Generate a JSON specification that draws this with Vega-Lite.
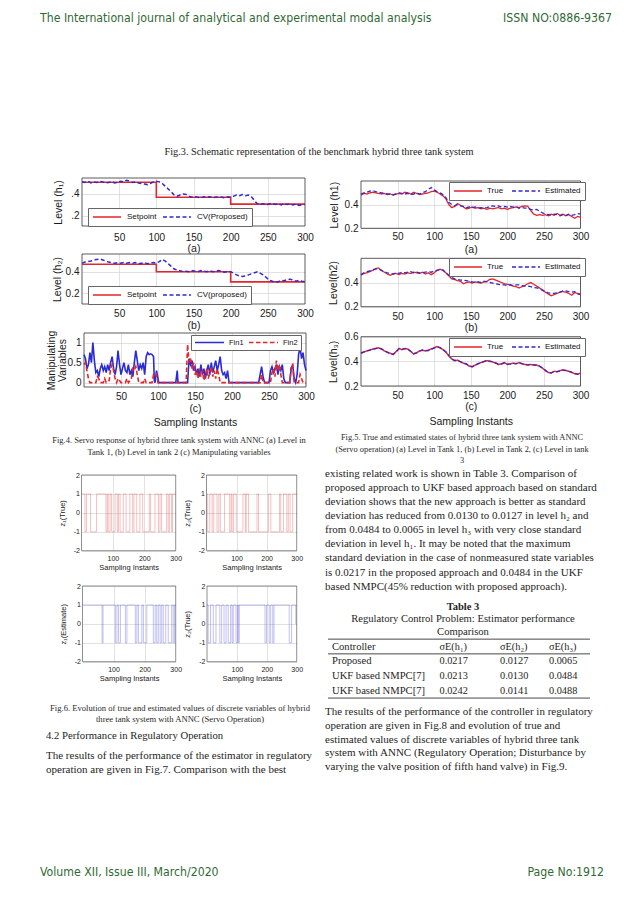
{
"$schema":"https://vega.github.io/schema/vega-lite/v6.json",
"width":638,"height":902,"autosize":{"type":"none"},"padding":0,"background":"#ffffff",
"config":{"view":{"stroke":null},
"axis":{"domain":false,"ticks":false,"grid":false,"labelFont":"Liberation Sans","titleFont":"Liberation Sans","titleFontWeight":"normal","labelColor":"#1a1a1a","titleColor":"#1a1a1a","gridColor":"#d4d4d4","gridWidth":0.7,"labelFlush":false,"labelOverlap":false,"labelFontSize":10,"titleFontSize":10.5},
"legend":{"labelFont":"Liberation Sans","labelColor":"#111111","orient":"none","direction":"horizontal","symbolType":"stroke","strokeColor":"#666666","fillColor":"#ffffff"}},
"resolve":{"scale":{"x":"independent","y":"independent","color":"independent","strokeDash":"independent"}},
"datasets":{
"f4a_sp":[{"t":0,"v":0.507},{"t":100,"v":0.37},{"t":200,"v":0.308},{"t":300,"v":0.308}],
"f4a_cv":[{"t":0,"v":0.51},{"t":4,"v":0.505},{"t":8,"v":0.515},{"t":12,"v":0.5},{"t":16,"v":0.51},{"t":20,"v":0.505},{"t":24,"v":0.515},{"t":28,"v":0.51},{"t":32,"v":0.5},{"t":36,"v":0.505},{"t":40,"v":0.51},{"t":44,"v":0.5},{"t":48,"v":0.505},{"t":52,"v":0.515},{"t":56,"v":0.51},{"t":60,"v":0.525},{"t":64,"v":0.515},{"t":68,"v":0.505},{"t":72,"v":0.51},{"t":76,"v":0.5},{"t":80,"v":0.495},{"t":84,"v":0.49},{"t":88,"v":0.485},{"t":92,"v":0.495},{"t":96,"v":0.51},{"t":100,"v":0.515},{"t":104,"v":0.51},{"t":108,"v":0.495},{"t":112,"v":0.47},{"t":116,"v":0.445},{"t":120,"v":0.42},{"t":124,"v":0.39},{"t":128,"v":0.38},{"t":132,"v":0.39},{"t":136,"v":0.4},{"t":140,"v":0.395},{"t":144,"v":0.38},{"t":148,"v":0.37},{"t":152,"v":0.375},{"t":156,"v":0.37},{"t":160,"v":0.365},{"t":164,"v":0.375},{"t":168,"v":0.37},{"t":172,"v":0.375},{"t":176,"v":0.365},{"t":180,"v":0.37},{"t":184,"v":0.375},{"t":188,"v":0.37},{"t":192,"v":0.365},{"t":196,"v":0.375},{"t":200,"v":0.37},{"t":204,"v":0.38},{"t":208,"v":0.39},{"t":212,"v":0.385},{"t":216,"v":0.395},{"t":220,"v":0.385},{"t":224,"v":0.39},{"t":228,"v":0.375},{"t":232,"v":0.34},{"t":236,"v":0.31},{"t":240,"v":0.305},{"t":244,"v":0.31},{"t":248,"v":0.3},{"t":252,"v":0.31},{"t":256,"v":0.315},{"t":260,"v":0.305},{"t":264,"v":0.31},{"t":268,"v":0.3},{"t":272,"v":0.315},{"t":276,"v":0.305},{"t":280,"v":0.31},{"t":284,"v":0.3},{"t":288,"v":0.31},{"t":292,"v":0.295},{"t":296,"v":0.3},{"t":300,"v":0.305}],
"f4b_sp":[{"t":0,"v":0.47},{"t":100,"v":0.4},{"t":200,"v":0.305},{"t":300,"v":0.305}],
"f4b_cv":[{"t":0,"v":0.48},{"t":4,"v":0.49},{"t":8,"v":0.495},{"t":12,"v":0.5},{"t":16,"v":0.51},{"t":20,"v":0.515},{"t":24,"v":0.52},{"t":28,"v":0.51},{"t":32,"v":0.5},{"t":36,"v":0.49},{"t":40,"v":0.485},{"t":44,"v":0.48},{"t":48,"v":0.485},{"t":52,"v":0.48},{"t":56,"v":0.485},{"t":60,"v":0.48},{"t":64,"v":0.485},{"t":68,"v":0.48},{"t":72,"v":0.485},{"t":76,"v":0.475},{"t":80,"v":0.48},{"t":84,"v":0.485},{"t":88,"v":0.475},{"t":92,"v":0.48},{"t":96,"v":0.485},{"t":100,"v":0.48},{"t":104,"v":0.495},{"t":108,"v":0.515},{"t":112,"v":0.5},{"t":116,"v":0.475},{"t":120,"v":0.45},{"t":124,"v":0.425},{"t":128,"v":0.415},{"t":132,"v":0.41},{"t":136,"v":0.4},{"t":140,"v":0.405},{"t":144,"v":0.4},{"t":148,"v":0.41},{"t":152,"v":0.405},{"t":156,"v":0.4},{"t":160,"v":0.41},{"t":164,"v":0.405},{"t":168,"v":0.4},{"t":172,"v":0.41},{"t":176,"v":0.4},{"t":180,"v":0.405},{"t":184,"v":0.41},{"t":188,"v":0.4},{"t":192,"v":0.395},{"t":196,"v":0.405},{"t":200,"v":0.4},{"t":204,"v":0.385},{"t":208,"v":0.37},{"t":212,"v":0.36},{"t":216,"v":0.355},{"t":220,"v":0.36},{"t":224,"v":0.37},{"t":228,"v":0.38},{"t":232,"v":0.39},{"t":236,"v":0.4},{"t":240,"v":0.385},{"t":244,"v":0.37},{"t":248,"v":0.345},{"t":252,"v":0.32},{"t":256,"v":0.31},{"t":260,"v":0.3},{"t":264,"v":0.305},{"t":268,"v":0.32},{"t":272,"v":0.315},{"t":276,"v":0.325},{"t":280,"v":0.33},{"t":284,"v":0.32},{"t":288,"v":0.31},{"t":292,"v":0.32},{"t":296,"v":0.31},{"t":300,"v":0.305}],
"f4c_1":[{"t":0,"v":0.7},{"t":2,"v":0.6},{"t":4,"v":0.35},{"t":6,"v":0.45},{"t":8,"v":0.75},{"t":10,"v":0.5},{"t":12,"v":1.0},{"t":14,"v":0.55},{"t":16,"v":0.25},{"t":18,"v":0.3},{"t":20,"v":0.15},{"t":22,"v":0.35},{"t":24,"v":0.45},{"t":26,"v":0.3},{"t":28,"v":0.4},{"t":30,"v":0.25},{"t":32,"v":0.45},{"t":34,"v":0.3},{"t":36,"v":0.5},{"t":38,"v":0.65},{"t":40,"v":0.35},{"t":42,"v":0.2},{"t":44,"v":0.4},{"t":46,"v":0.8},{"t":48,"v":0.45},{"t":50,"v":0.2},{"t":52,"v":0.35},{"t":54,"v":0.5},{"t":56,"v":0.3},{"t":58,"v":0.25},{"t":60,"v":0.45},{"t":62,"v":0.2},{"t":64,"v":0.3},{"t":66,"v":0.15},{"t":68,"v":0.5},{"t":70,"v":0.8},{"t":72,"v":0.55},{"t":74,"v":0.3},{"t":76,"v":0.45},{"t":78,"v":0.35},{"t":80,"v":0.5},{"t":82,"v":0.2},{"t":84,"v":0.65},{"t":86,"v":0.75},{"t":88,"v":0.7},{"t":90,"v":0.72},{"t":92,"v":0.7},{"t":94,"v":0.65},{"t":95,"v":0.05},{"t":96,"v":0.0},{"t":98,"v":0.3},{"t":100,"v":0.1},{"t":101,"v":0.0},{"t":124,"v":0.0},{"t":126,"v":0.3},{"t":127,"v":0.0},{"t":140,"v":0.0},{"t":142,"v":0.6},{"t":144,"v":0.45},{"t":146,"v":0.55},{"t":148,"v":0.3},{"t":150,"v":0.4},{"t":152,"v":0.2},{"t":154,"v":0.35},{"t":156,"v":0.15},{"t":158,"v":0.45},{"t":160,"v":0.2},{"t":162,"v":0.35},{"t":164,"v":0.1},{"t":166,"v":0.3},{"t":168,"v":0.45},{"t":170,"v":0.2},{"t":172,"v":0.5},{"t":174,"v":0.25},{"t":176,"v":0.4},{"t":178,"v":0.55},{"t":180,"v":0.3},{"t":182,"v":0.45},{"t":184,"v":0.65},{"t":186,"v":0.3},{"t":188,"v":0.2},{"t":190,"v":0.25},{"t":192,"v":0.1},{"t":194,"v":0.3},{"t":196,"v":0.0},{"t":236,"v":0.0},{"t":238,"v":0.2},{"t":240,"v":0.4},{"t":242,"v":0.15},{"t":244,"v":0.0},{"t":250,"v":0.0},{"t":252,"v":0.3},{"t":254,"v":0.4},{"t":256,"v":0.25},{"t":258,"v":0.35},{"t":260,"v":0.45},{"t":262,"v":0.2},{"t":264,"v":0.4},{"t":266,"v":0.3},{"t":268,"v":0.45},{"t":270,"v":0.1},{"t":272,"v":0.0},{"t":278,"v":0.0},{"t":280,"v":0.35},{"t":282,"v":0.45},{"t":284,"v":0.1},{"t":286,"v":0.0},{"t":288,"v":0.2},{"t":290,"v":0.7},{"t":292,"v":0.9},{"t":294,"v":0.6},{"t":296,"v":0.75},{"t":298,"v":0.45},{"t":300,"v":0.3}],
"f4c_2":[{"t":0,"v":0.45},{"t":2,"v":0.5},{"t":4,"v":0.3},{"t":6,"v":0.1},{"t":8,"v":0.0},{"t":16,"v":0.0},{"t":18,"v":0.15},{"t":20,"v":0.1},{"t":22,"v":0.0},{"t":26,"v":0.0},{"t":28,"v":0.1},{"t":30,"v":0.0},{"t":34,"v":0.05},{"t":36,"v":0.35},{"t":38,"v":0.45},{"t":40,"v":0.3},{"t":42,"v":0.1},{"t":44,"v":0.0},{"t":46,"v":0.1},{"t":48,"v":0.05},{"t":50,"v":0.0},{"t":56,"v":0.0},{"t":58,"v":0.1},{"t":60,"v":0.0},{"t":64,"v":0.1},{"t":66,"v":0.35},{"t":68,"v":0.3},{"t":70,"v":0.4},{"t":72,"v":0.2},{"t":74,"v":0.0},{"t":80,"v":0.0},{"t":82,"v":0.1},{"t":84,"v":0.0},{"t":92,"v":0.0},{"t":94,"v":0.2},{"t":96,"v":0.15},{"t":98,"v":0.2},{"t":100,"v":0.0},{"t":138,"v":0.0},{"t":140,"v":0.95},{"t":142,"v":0.5},{"t":144,"v":0.6},{"t":146,"v":0.35},{"t":148,"v":0.5},{"t":150,"v":0.2},{"t":152,"v":0.3},{"t":154,"v":0.1},{"t":156,"v":0.35},{"t":158,"v":0.15},{"t":160,"v":0.3},{"t":162,"v":0.05},{"t":164,"v":0.2},{"t":166,"v":0.35},{"t":168,"v":0.1},{"t":170,"v":0.25},{"t":172,"v":0.4},{"t":174,"v":0.15},{"t":176,"v":0.3},{"t":178,"v":0.1},{"t":180,"v":0.35},{"t":182,"v":0.2},{"t":184,"v":0.0},{"t":238,"v":0.0},{"t":240,"v":0.2},{"t":242,"v":0.0},{"t":252,"v":0.0},{"t":254,"v":0.25},{"t":256,"v":0.35},{"t":258,"v":0.15},{"t":260,"v":0.55},{"t":262,"v":0.3},{"t":264,"v":0.45},{"t":266,"v":0.2},{"t":268,"v":0.0},{"t":278,"v":0.0},{"t":280,"v":0.4},{"t":282,"v":0.45},{"t":284,"v":0.0},{"t":290,"v":0.0},{"t":292,"v":0.2},{"t":294,"v":0.1},{"t":296,"v":0.0},{"t":300,"v":0.0}],
"f5a_t":[{"t":0,"v":0.48},{"t":4,"v":0.495},{"t":8,"v":0.49},{"t":12,"v":0.5},{"t":16,"v":0.505},{"t":20,"v":0.5},{"t":24,"v":0.495},{"t":28,"v":0.49},{"t":32,"v":0.495},{"t":36,"v":0.485},{"t":40,"v":0.49},{"t":44,"v":0.48},{"t":48,"v":0.49},{"t":52,"v":0.495},{"t":56,"v":0.49},{"t":60,"v":0.505},{"t":64,"v":0.5},{"t":68,"v":0.49},{"t":72,"v":0.505},{"t":76,"v":0.495},{"t":80,"v":0.485},{"t":84,"v":0.49},{"t":88,"v":0.495},{"t":92,"v":0.5},{"t":96,"v":0.51},{"t":100,"v":0.515},{"t":104,"v":0.505},{"t":108,"v":0.49},{"t":112,"v":0.475},{"t":116,"v":0.45},{"t":120,"v":0.4},{"t":124,"v":0.375},{"t":128,"v":0.385},{"t":132,"v":0.41},{"t":136,"v":0.395},{"t":140,"v":0.38},{"t":144,"v":0.365},{"t":148,"v":0.37},{"t":152,"v":0.38},{"t":156,"v":0.37},{"t":160,"v":0.375},{"t":164,"v":0.365},{"t":168,"v":0.37},{"t":172,"v":0.36},{"t":176,"v":0.37},{"t":180,"v":0.365},{"t":184,"v":0.37},{"t":188,"v":0.375},{"t":192,"v":0.365},{"t":196,"v":0.37},{"t":200,"v":0.36},{"t":204,"v":0.37},{"t":208,"v":0.375},{"t":212,"v":0.38},{"t":216,"v":0.375},{"t":220,"v":0.385},{"t":224,"v":0.39},{"t":228,"v":0.385},{"t":232,"v":0.35},{"t":236,"v":0.32},{"t":240,"v":0.31},{"t":244,"v":0.315},{"t":248,"v":0.31},{"t":252,"v":0.315},{"t":256,"v":0.305},{"t":260,"v":0.32},{"t":264,"v":0.31},{"t":268,"v":0.325},{"t":272,"v":0.31},{"t":276,"v":0.32},{"t":280,"v":0.305},{"t":284,"v":0.315},{"t":288,"v":0.3},{"t":292,"v":0.285},{"t":296,"v":0.3},{"t":300,"v":0.295}],
"f5a_e":[{"t":0,"v":0.49},{"t":4,"v":0.5},{"t":8,"v":0.505},{"t":12,"v":0.515},{"t":16,"v":0.52},{"t":20,"v":0.51},{"t":24,"v":0.505},{"t":28,"v":0.5},{"t":32,"v":0.495},{"t":36,"v":0.49},{"t":40,"v":0.49},{"t":44,"v":0.485},{"t":48,"v":0.49},{"t":52,"v":0.5},{"t":56,"v":0.495},{"t":60,"v":0.49},{"t":64,"v":0.495},{"t":68,"v":0.485},{"t":72,"v":0.49},{"t":76,"v":0.5},{"t":80,"v":0.49},{"t":84,"v":0.5},{"t":88,"v":0.51},{"t":92,"v":0.53},{"t":96,"v":0.545},{"t":100,"v":0.525},{"t":104,"v":0.51},{"t":108,"v":0.5},{"t":112,"v":0.485},{"t":116,"v":0.46},{"t":120,"v":0.42},{"t":124,"v":0.4},{"t":128,"v":0.39},{"t":132,"v":0.4},{"t":136,"v":0.39},{"t":140,"v":0.385},{"t":144,"v":0.375},{"t":148,"v":0.38},{"t":152,"v":0.375},{"t":156,"v":0.38},{"t":160,"v":0.37},{"t":164,"v":0.375},{"t":168,"v":0.37},{"t":172,"v":0.375},{"t":176,"v":0.385},{"t":180,"v":0.39},{"t":184,"v":0.385},{"t":188,"v":0.39},{"t":192,"v":0.38},{"t":196,"v":0.385},{"t":200,"v":0.38},{"t":204,"v":0.385},{"t":208,"v":0.38},{"t":212,"v":0.385},{"t":216,"v":0.37},{"t":220,"v":0.375},{"t":224,"v":0.37},{"t":228,"v":0.37},{"t":232,"v":0.36},{"t":236,"v":0.355},{"t":240,"v":0.36},{"t":244,"v":0.345},{"t":248,"v":0.33},{"t":252,"v":0.32},{"t":256,"v":0.315},{"t":260,"v":0.31},{"t":264,"v":0.32},{"t":268,"v":0.315},{"t":272,"v":0.305},{"t":276,"v":0.315},{"t":280,"v":0.31},{"t":284,"v":0.32},{"t":288,"v":0.31},{"t":292,"v":0.315},{"t":296,"v":0.325},{"t":300,"v":0.32}],
"f5b_t":[{"t":0,"v":0.46},{"t":4,"v":0.475},{"t":8,"v":0.48},{"t":12,"v":0.49},{"t":16,"v":0.5},{"t":20,"v":0.515},{"t":24,"v":0.52},{"t":28,"v":0.5},{"t":32,"v":0.485},{"t":36,"v":0.47},{"t":40,"v":0.46},{"t":44,"v":0.47},{"t":48,"v":0.475},{"t":52,"v":0.465},{"t":56,"v":0.475},{"t":60,"v":0.47},{"t":64,"v":0.48},{"t":68,"v":0.475},{"t":72,"v":0.485},{"t":76,"v":0.48},{"t":80,"v":0.475},{"t":84,"v":0.485},{"t":88,"v":0.47},{"t":92,"v":0.48},{"t":96,"v":0.465},{"t":100,"v":0.48},{"t":104,"v":0.5},{"t":108,"v":0.51},{"t":112,"v":0.5},{"t":116,"v":0.48},{"t":120,"v":0.455},{"t":124,"v":0.43},{"t":128,"v":0.425},{"t":132,"v":0.415},{"t":136,"v":0.41},{"t":140,"v":0.39},{"t":144,"v":0.4},{"t":148,"v":0.405},{"t":152,"v":0.395},{"t":156,"v":0.405},{"t":160,"v":0.4},{"t":164,"v":0.395},{"t":168,"v":0.405},{"t":172,"v":0.41},{"t":176,"v":0.425},{"t":180,"v":0.43},{"t":184,"v":0.42},{"t":188,"v":0.41},{"t":192,"v":0.4},{"t":196,"v":0.39},{"t":200,"v":0.385},{"t":204,"v":0.38},{"t":208,"v":0.37},{"t":212,"v":0.365},{"t":216,"v":0.355},{"t":220,"v":0.365},{"t":224,"v":0.375},{"t":228,"v":0.39},{"t":232,"v":0.4},{"t":236,"v":0.385},{"t":240,"v":0.37},{"t":244,"v":0.355},{"t":248,"v":0.34},{"t":252,"v":0.32},{"t":256,"v":0.305},{"t":260,"v":0.29},{"t":264,"v":0.3},{"t":268,"v":0.31},{"t":272,"v":0.32},{"t":276,"v":0.325},{"t":280,"v":0.32},{"t":284,"v":0.31},{"t":288,"v":0.295},{"t":292,"v":0.315},{"t":296,"v":0.31},{"t":300,"v":0.305}],
"f5b_e":[{"t":0,"v":0.465},{"t":4,"v":0.48},{"t":8,"v":0.49},{"t":12,"v":0.495},{"t":16,"v":0.505},{"t":20,"v":0.51},{"t":24,"v":0.51},{"t":28,"v":0.5},{"t":32,"v":0.49},{"t":36,"v":0.48},{"t":40,"v":0.475},{"t":44,"v":0.47},{"t":48,"v":0.48},{"t":52,"v":0.475},{"t":56,"v":0.485},{"t":60,"v":0.48},{"t":64,"v":0.485},{"t":68,"v":0.49},{"t":72,"v":0.48},{"t":76,"v":0.485},{"t":80,"v":0.48},{"t":84,"v":0.48},{"t":88,"v":0.485},{"t":92,"v":0.49},{"t":96,"v":0.485},{"t":100,"v":0.495},{"t":104,"v":0.5},{"t":108,"v":0.505},{"t":112,"v":0.505},{"t":116,"v":0.48},{"t":120,"v":0.46},{"t":124,"v":0.44},{"t":128,"v":0.43},{"t":132,"v":0.425},{"t":136,"v":0.42},{"t":140,"v":0.42},{"t":144,"v":0.415},{"t":148,"v":0.41},{"t":152,"v":0.405},{"t":156,"v":0.4},{"t":160,"v":0.405},{"t":164,"v":0.4},{"t":168,"v":0.41},{"t":172,"v":0.405},{"t":176,"v":0.4},{"t":180,"v":0.395},{"t":184,"v":0.39},{"t":188,"v":0.385},{"t":192,"v":0.38},{"t":196,"v":0.38},{"t":200,"v":0.375},{"t":204,"v":0.38},{"t":208,"v":0.375},{"t":212,"v":0.38},{"t":216,"v":0.38},{"t":220,"v":0.375},{"t":224,"v":0.37},{"t":228,"v":0.37},{"t":232,"v":0.365},{"t":236,"v":0.36},{"t":240,"v":0.355},{"t":244,"v":0.35},{"t":248,"v":0.335},{"t":252,"v":0.325},{"t":256,"v":0.315},{"t":260,"v":0.31},{"t":264,"v":0.31},{"t":268,"v":0.315},{"t":272,"v":0.32},{"t":276,"v":0.33},{"t":280,"v":0.33},{"t":284,"v":0.325},{"t":288,"v":0.32},{"t":292,"v":0.325},{"t":296,"v":0.305},{"t":300,"v":0.3}],
"f5c_t":[{"t":0,"v":0.465},{"t":4,"v":0.475},{"t":8,"v":0.485},{"t":12,"v":0.49},{"t":16,"v":0.5},{"t":20,"v":0.505},{"t":24,"v":0.51},{"t":28,"v":0.5},{"t":32,"v":0.485},{"t":36,"v":0.475},{"t":40,"v":0.465},{"t":44,"v":0.455},{"t":48,"v":0.48},{"t":52,"v":0.505},{"t":56,"v":0.495},{"t":60,"v":0.505},{"t":64,"v":0.5},{"t":68,"v":0.48},{"t":72,"v":0.46},{"t":76,"v":0.47},{"t":80,"v":0.485},{"t":84,"v":0.49},{"t":88,"v":0.485},{"t":92,"v":0.49},{"t":96,"v":0.5},{"t":100,"v":0.51},{"t":104,"v":0.52},{"t":108,"v":0.51},{"t":112,"v":0.495},{"t":116,"v":0.475},{"t":120,"v":0.445},{"t":124,"v":0.42},{"t":128,"v":0.405},{"t":132,"v":0.41},{"t":136,"v":0.395},{"t":140,"v":0.385},{"t":144,"v":0.38},{"t":148,"v":0.36},{"t":152,"v":0.355},{"t":156,"v":0.37},{"t":160,"v":0.38},{"t":164,"v":0.39},{"t":168,"v":0.4},{"t":172,"v":0.405},{"t":176,"v":0.4},{"t":180,"v":0.395},{"t":184,"v":0.385},{"t":188,"v":0.375},{"t":192,"v":0.38},{"t":196,"v":0.39},{"t":200,"v":0.375},{"t":204,"v":0.38},{"t":208,"v":0.385},{"t":212,"v":0.38},{"t":216,"v":0.39},{"t":220,"v":0.38},{"t":224,"v":0.375},{"t":228,"v":0.37},{"t":232,"v":0.375},{"t":236,"v":0.37},{"t":240,"v":0.37},{"t":244,"v":0.36},{"t":248,"v":0.345},{"t":252,"v":0.325},{"t":256,"v":0.31},{"t":260,"v":0.305},{"t":264,"v":0.32},{"t":268,"v":0.315},{"t":272,"v":0.325},{"t":276,"v":0.33},{"t":280,"v":0.325},{"t":284,"v":0.32},{"t":288,"v":0.31},{"t":292,"v":0.3},{"t":296,"v":0.295},{"t":300,"v":0.305}],
"f5c_e":[{"t":0,"v":0.468},{"t":4,"v":0.477},{"t":8,"v":0.483},{"t":12,"v":0.492},{"t":16,"v":0.498},{"t":20,"v":0.503},{"t":24,"v":0.508},{"t":28,"v":0.502},{"t":32,"v":0.487},{"t":36,"v":0.473},{"t":40,"v":0.463},{"t":44,"v":0.457},{"t":48,"v":0.478},{"t":52,"v":0.503},{"t":56,"v":0.497},{"t":60,"v":0.503},{"t":64,"v":0.498},{"t":68,"v":0.482},{"t":72,"v":0.462},{"t":76,"v":0.468},{"t":80,"v":0.483},{"t":84,"v":0.492},{"t":88,"v":0.487},{"t":92,"v":0.488},{"t":96,"v":0.498},{"t":100,"v":0.508},{"t":104,"v":0.517},{"t":108,"v":0.512},{"t":112,"v":0.497},{"t":116,"v":0.477},{"t":120,"v":0.447},{"t":124,"v":0.422},{"t":128,"v":0.407},{"t":132,"v":0.408},{"t":136,"v":0.397},{"t":140,"v":0.387},{"t":144,"v":0.378},{"t":148,"v":0.362},{"t":152,"v":0.357},{"t":156,"v":0.368},{"t":160,"v":0.382},{"t":164,"v":0.388},{"t":168,"v":0.398},{"t":172,"v":0.403},{"t":176,"v":0.402},{"t":180,"v":0.397},{"t":184,"v":0.387},{"t":188,"v":0.377},{"t":192,"v":0.378},{"t":196,"v":0.388},{"t":200,"v":0.377},{"t":204,"v":0.378},{"t":208,"v":0.383},{"t":212,"v":0.382},{"t":216,"v":0.388},{"t":220,"v":0.382},{"t":224,"v":0.377},{"t":228,"v":0.372},{"t":232,"v":0.373},{"t":236,"v":0.372},{"t":240,"v":0.368},{"t":244,"v":0.362},{"t":248,"v":0.347},{"t":252,"v":0.327},{"t":256,"v":0.312},{"t":260,"v":0.307},{"t":264,"v":0.318},{"t":268,"v":0.317},{"t":272,"v":0.323},{"t":276,"v":0.328},{"t":280,"v":0.327},{"t":284,"v":0.318},{"t":288,"v":0.312},{"t":292,"v":0.302},{"t":296,"v":0.297},{"t":300,"v":0.303}],
"z1t":[{"t":0,"v":1},{"t":11,"v":-1},{"t":16,"v":1},{"t":29,"v":-1},{"t":48,"v":1},{"t":78,"v":-1},{"t":82,"v":1},{"t":85,"v":-1},{"t":91,"v":1},{"t":96,"v":-1},{"t":107,"v":1},{"t":114,"v":-1},{"t":118,"v":1},{"t":123,"v":-1},{"t":133,"v":1},{"t":142,"v":-1},{"t":154,"v":1},{"t":163,"v":-1},{"t":167,"v":1},{"t":176,"v":-1},{"t":186,"v":1},{"t":195,"v":-1},{"t":216,"v":1},{"t":220,"v":-1},{"t":234,"v":1},{"t":245,"v":-1},{"t":250,"v":1},{"t":255,"v":-1},{"t":271,"v":1},{"t":276,"v":-1},{"t":280,"v":1},{"t":287,"v":-1},{"t":290,"v":1},{"t":300,"v":1}],
"z2t":[{"t":0,"v":1},{"t":4,"v":-1},{"t":11,"v":1},{"t":19,"v":-1},{"t":24,"v":1},{"t":35,"v":-1},{"t":41,"v":1},{"t":46,"v":-1},{"t":60,"v":1},{"t":77,"v":-1},{"t":82,"v":1},{"t":85,"v":-1},{"t":90,"v":1},{"t":99,"v":-1},{"t":121,"v":1},{"t":129,"v":-1},{"t":132,"v":1},{"t":140,"v":-1},{"t":168,"v":1},{"t":173,"v":-1},{"t":206,"v":1},{"t":214,"v":-1},{"t":243,"v":1},{"t":247,"v":-1},{"t":256,"v":1},{"t":267,"v":-1},{"t":272,"v":1},{"t":278,"v":-1},{"t":287,"v":1},{"t":300,"v":1}],
"z1e":[{"t":0,"v":1},{"t":63,"v":-1},{"t":66,"v":1},{"t":106,"v":-1},{"t":111,"v":1},{"t":116,"v":-1},{"t":122,"v":1},{"t":138,"v":-1},{"t":143,"v":1},{"t":170,"v":-1},{"t":175,"v":1},{"t":180,"v":-1},{"t":191,"v":1},{"t":196,"v":-1},{"t":207,"v":1},{"t":228,"v":-1},{"t":234,"v":1},{"t":239,"v":-1},{"t":244,"v":1},{"t":250,"v":-1},{"t":255,"v":1},{"t":260,"v":-1},{"t":268,"v":1},{"t":276,"v":-1},{"t":287,"v":1},{"t":292,"v":-1},{"t":296,"v":1},{"t":300,"v":1}],
"z2e":[{"t":0,"v":1},{"t":4,"v":-1},{"t":12,"v":1},{"t":21,"v":-1},{"t":30,"v":1},{"t":43,"v":-1},{"t":49,"v":1},{"t":57,"v":-1},{"t":64,"v":1},{"t":71,"v":-1},{"t":79,"v":1},{"t":84,"v":-1},{"t":88,"v":1},{"t":97,"v":-1},{"t":102,"v":1},{"t":105,"v":-1},{"t":108,"v":1},{"t":194,"v":-1},{"t":199,"v":1},{"t":208,"v":-1},{"t":213,"v":1},{"t":220,"v":-1},{"t":224,"v":1},{"t":275,"v":-1},{"t":283,"v":1},{"t":297,"v":0},{"t":300,"v":0}]
},
"layer":[
{"data":{"values":[{"l":0,"text":"The International journal of analytical and experimental modal analysis"}]},"mark":{"type":"text","align":"left","baseline":"middle","font":"Liberation Sans Narrow, Arial Narrow, DejaVu Sans Condensed, Liberation Sans","fontSize":12.2,"color":"#2f6a34"},"encoding":{"x":{"datum":0,"type":"quantitative","scale":{"domain":[0,1],"range":[40,140]},"axis":null},"y":{"field":"l","type":"quantitative","scale":{"domain":[0,1],"range":[18,32]},"axis":null},"text":{"field":"text"}}},
{"data":{"values":[{"l":0,"text":"ISSN NO:0886-9367"}]},"mark":{"type":"text","align":"right","baseline":"middle","font":"Liberation Sans Narrow, Arial Narrow, DejaVu Sans Condensed, Liberation Sans","fontSize":12.2,"color":"#2f6a34"},"encoding":{"x":{"datum":0,"type":"quantitative","scale":{"domain":[0,1],"range":[612,712]},"axis":null},"y":{"field":"l","type":"quantitative","scale":{"domain":[0,1],"range":[18,32]},"axis":null},"text":{"field":"text"}}},
{"data":{"values":[{"l":0,"text":"Fig.3. Schematic representation of the benchmark hybrid three tank system"}]},"mark":{"type":"text","align":"center","baseline":"middle","font":"Liberation Serif","fontSize":10.3,"color":"#222222"},"encoding":{"x":{"datum":0,"type":"quantitative","scale":{"domain":[0,1],"range":[319,419]},"axis":null},"y":{"field":"l","type":"quantitative","scale":{"domain":[0,1],"range":[152,164]},"axis":null},"text":{"field":"text"}}},
{"data":{"values":[{"l":0,"text":"Fig.4. Servo response of hybrid three tank system with ANNC (a) Level in"},{"l":1,"text":"Tank 1, (b) Level in tank 2 (c) Manipulating variables"}]},"mark":{"type":"text","align":"center","baseline":"middle","font":"Liberation Serif","fontSize":8.5,"color":"#2a2a2a"},"encoding":{"x":{"datum":0,"type":"quantitative","scale":{"domain":[0,1],"range":[179,279]},"axis":null},"y":{"field":"l","type":"quantitative","scale":{"domain":[0,1],"range":[440,452]},"axis":null},"text":{"field":"text"}}},
{"data":{"values":[{"l":0,"text":"Fig.5. True and estimated states of hybrid three tank system with ANNC"},{"l":1,"text":"(Servo operation) (a) Level in Tank 1, (b) Level in Tank 2, (c) Level in tank"},{"l":2,"text":"3"}]},"mark":{"type":"text","align":"center","baseline":"middle","font":"Liberation Serif","fontSize":8.4,"color":"#2a2a2a"},"encoding":{"x":{"datum":0,"type":"quantitative","scale":{"domain":[0,1],"range":[462,562]},"axis":null},"y":{"field":"l","type":"quantitative","scale":{"domain":[0,1],"range":[437,448.5]},"axis":null},"text":{"field":"text"}}},
{"data":{"values":[{"l":0,"text":"Fig.6. Evolution of true and estimated values of discrete variables of hybrid"},{"l":1,"text":"three tank system with ANNC (Servo Operation)"}]},"mark":{"type":"text","align":"center","baseline":"middle","font":"Liberation Serif","fontSize":8.6,"color":"#2a2a2a"},"encoding":{"x":{"datum":0,"type":"quantitative","scale":{"domain":[0,1],"range":[180,280]},"axis":null},"y":{"field":"l","type":"quantitative","scale":{"domain":[0,1],"range":[708.3,718.8]},"axis":null},"text":{"field":"text"}}},
{"data":{"values":[{"l":0,"text":"4.2 Performance in Regulatory Operation"}]},"mark":{"type":"text","align":"left","baseline":"middle","font":"Liberation Serif","fontSize":10.7,"color":"#1e1e1e"},"encoding":{"x":{"datum":0,"type":"quantitative","scale":{"domain":[0,1],"range":[46,146]},"axis":null},"y":{"field":"l","type":"quantitative","scale":{"domain":[0,1],"range":[735.7,750]},"axis":null},"text":{"field":"text"}}},
{"data":{"values":[{"l":0,"text":"The results of the performance of the estimator in regulatory"},{"l":1,"text":"operation are given in Fig.7. Comparison with the best"}]},"mark":{"type":"text","align":"left","baseline":"middle","font":"Liberation Serif","fontSize":11,"color":"#1e1e1e"},"encoding":{"x":{"datum":0,"type":"quantitative","scale":{"domain":[0,1],"range":[46,146]},"axis":null},"y":{"field":"l","type":"quantitative","scale":{"domain":[0,1],"range":[755.7,770.2]},"axis":null},"text":{"field":"text"}}},
{"data":{"values":[{"l":0,"text":"existing related work is shown in Table 3. Comparison of"},{"l":1,"text":"proposed approach to UKF based approach based on standard"},{"l":2,"text":"deviation shows that the new approach is better as standard"},{"l":3,"text":"deviation has reduced from 0.0130 to 0.0127 in level h₂ and"},{"l":4,"text":"from 0.0484 to 0.0065 in level h₃ with very close standard"},{"l":5,"text":"deviation in level h₁. It may be noted that the maximum"},{"l":6,"text":"standard deviation in the case of nonmeasured state variables"},{"l":7,"text":"is 0.0217 in the proposed approach and 0.0484 in the UKF"},{"l":8,"text":"based NMPC(45% reduction with proposed approach)."}]},"mark":{"type":"text","align":"left","baseline":"middle","font":"Liberation Serif","fontSize":11,"color":"#1e1e1e"},"encoding":{"x":{"datum":0,"type":"quantitative","scale":{"domain":[0,1],"range":[325,425]},"axis":null},"y":{"field":"l","type":"quantitative","scale":{"domain":[0,1],"range":[474,488.08]},"axis":null},"text":{"field":"text"}}},
{"data":{"values":[{"l":0,"text":"Table 3"}]},"mark":{"type":"text","align":"center","baseline":"middle","font":"Liberation Serif","fontSize":10.5,"fontWeight":"bold","color":"#1e1e1e"},"encoding":{"x":{"datum":0,"type":"quantitative","scale":{"domain":[0,1],"range":[463,563]},"axis":null},"y":{"field":"l","type":"quantitative","scale":{"domain":[0,1],"range":[606.7,619.5]},"axis":null},"text":{"field":"text"}}},
{"data":{"values":[{"l":0,"text":"Regulatory Control Problem: Estimator performance"},{"l":1,"text":"Comparison"}]},"mark":{"type":"text","align":"center","baseline":"middle","font":"Liberation Serif","fontSize":10.6,"color":"#1e1e1e"},"encoding":{"x":{"datum":0,"type":"quantitative","scale":{"domain":[0,1],"range":[463,563]},"axis":null},"y":{"field":"l","type":"quantitative","scale":{"domain":[0,1],"range":[619.3,632.3]},"axis":null},"text":{"field":"text"}}},
{"data":{"values":[{"r":-0.5},{"r":0.5},{"r":3.5}]},"mark":{"type":"rule","color":"#333333","strokeWidth":0.9},"encoding":{"x":{"datum":0,"type":"quantitative","scale":{"domain":[0,1],"range":[328,590]},"axis":null},"x2":{"datum":1},"y":{"field":"r","type":"quantitative","scale":{"domain":[0,3],"range":[646.5,690.7]},"axis":null}}},
{"data":{"values":[{"r":0,"text":"Controller"},{"r":1,"text":"Proposed"},{"r":2,"text":"UKF based NMPC[7]"},{"r":3,"text":"UKF based NMPC[7]"}]},"mark":{"type":"text","align":"left","baseline":"middle","font":"Liberation Serif","fontSize":10.6,"color":"#1e1e1e"},"encoding":{"x":{"datum":0,"type":"quantitative","scale":{"domain":[0,1],"range":[332,432]},"axis":null},"y":{"field":"r","type":"quantitative","scale":{"domain":[0,3],"range":[646.5,690.7]},"axis":null},"text":{"field":"text"}}},
{"data":{"values":[{"r":0,"text":"σE(h₁)"},{"r":1,"text":"0.0217"},{"r":2,"text":"0.0213"},{"r":3,"text":"0.0242"}]},"mark":{"type":"text","align":"left","baseline":"middle","font":"Liberation Serif","fontSize":10.3,"color":"#1e1e1e"},"encoding":{"x":{"datum":0,"type":"quantitative","scale":{"domain":[0,1],"range":[439.5,539.5]},"axis":null},"y":{"field":"r","type":"quantitative","scale":{"domain":[0,3],"range":[646.5,690.7]},"axis":null},"text":{"field":"text"}}},
{"data":{"values":[{"r":0,"text":"σE(h₂)"},{"r":1,"text":"0.0127"},{"r":2,"text":"0.0130"},{"r":3,"text":"0.0141"}]},"mark":{"type":"text","align":"left","baseline":"middle","font":"Liberation Serif","fontSize":10.3,"color":"#1e1e1e"},"encoding":{"x":{"datum":0,"type":"quantitative","scale":{"domain":[0,1],"range":[500,600]},"axis":null},"y":{"field":"r","type":"quantitative","scale":{"domain":[0,3],"range":[646.5,690.7]},"axis":null},"text":{"field":"text"}}},
{"data":{"values":[{"r":0,"text":"σE(h₃)"},{"r":1,"text":"0.0065"},{"r":2,"text":"0.0484"},{"r":3,"text":"0.0488"}]},"mark":{"type":"text","align":"left","baseline":"middle","font":"Liberation Serif","fontSize":10.3,"color":"#1e1e1e"},"encoding":{"x":{"datum":0,"type":"quantitative","scale":{"domain":[0,1],"range":[549,649]},"axis":null},"y":{"field":"r","type":"quantitative","scale":{"domain":[0,3],"range":[646.5,690.7]},"axis":null},"text":{"field":"text"}}},
{"data":{"values":[{"l":0,"text":"The results of the performance of the controller in regulatory"},{"l":1,"text":"operation are given in Fig.8 and evolution of true and"},{"l":2,"text":"estimated values of discrete variables of hybrid three tank"},{"l":3,"text":"system with ANNC (Regulatory Operation; Disturbance by"},{"l":4,"text":"varying the valve position of fifth hand valve) in Fig.9."}]},"mark":{"type":"text","align":"left","baseline":"middle","font":"Liberation Serif","fontSize":11,"color":"#1e1e1e"},"encoding":{"x":{"datum":0,"type":"quantitative","scale":{"domain":[0,1],"range":[325,425]},"axis":null},"y":{"field":"l","type":"quantitative","scale":{"domain":[0,1],"range":[711.7,725.6]},"axis":null},"text":{"field":"text"}}},
{"data":{"values":[{"l":0,"text":"Volume XII, Issue III, March/2020"}]},"mark":{"type":"text","align":"left","baseline":"middle","font":"Liberation Sans Narrow, Arial Narrow, DejaVu Sans Condensed, Liberation Sans","fontSize":12.2,"color":"#2f6a34"},"encoding":{"x":{"datum":0,"type":"quantitative","scale":{"domain":[0,1],"range":[40,140]},"axis":null},"y":{"field":"l","type":"quantitative","scale":{"domain":[0,1],"range":[872,886]},"axis":null},"text":{"field":"text"}}},
{"data":{"values":[{"l":0,"text":"Page No:1912"}]},"mark":{"type":"text","align":"right","baseline":"middle","font":"Liberation Sans Narrow, Arial Narrow, DejaVu Sans Condensed, Liberation Sans","fontSize":12.2,"color":"#2f6a34"},"encoding":{"x":{"datum":0,"type":"quantitative","scale":{"domain":[0,1],"range":[604,704]},"axis":null},"y":{"field":"l","type":"quantitative","scale":{"domain":[0,1],"range":[872,886]},"axis":null},"text":{"field":"text"}}},

{"resolve":{"axis":{"x":"independent"}},"layer":[
{"data":{"values":[{}]},"mark":{"type":"rect","fillOpacity":0,"stroke":"#333333","strokeWidth":0.8},"encoding":{"x":{"datum":0,"type":"quantitative","scale":{"domain":[0,300],"range":[82,305],"nice":false,"zero":false},"axis":{"orient":"top","offset":-178,"grid":true,"labels":false,"title":null,"values":[50,100,150,200,250]}},"x2":{"datum":300},"y":{"datum":0.109,"type":"quantitative","scale":{"domain":[0.109,0.545],"range":[226,178],"nice":false,"zero":false},"axis":{"orient":"left","offset":-82,"values":[0.2,0.4],"grid":true,"labelExpr":"replace(format(datum.value,'.1f'),'0.','.')","title":"Level (h₁)","labelPadding":3,"titlePadding":7}},"y2":{"datum":0.545}}},
{"data":{"name":"f4a_sp"},"mark":{"type":"line","interpolate":"step-after","strokeWidth":1.6},"encoding":{"x":{"field":"t","type":"quantitative","scale":{"domain":[0,300],"range":[82,305],"nice":false,"zero":false},"axis":null},"y":{"field":"v","type":"quantitative","scale":{"domain":[0.109,0.545],"range":[226,178],"nice":false,"zero":false}},
"color":{"datum":"Setpoint","scale":{"domain":["Setpoint","CV(Proposed)"],"range":["#e3262b","#2b2bd4"]},"legend":{"legendX":88,"legendY":208,"title":null,"symbolSize":784,"symbolStrokeWidth":1.6,"labelFontSize":8,"labelOffset":5,"columnPadding":5,"padding":4,"clipHeight":10}},
"strokeDash":{"datum":"Setpoint","scale":{"domain":["Setpoint","CV(Proposed)"],"range":[[1,0],[4,2.5]]},"legend":{"legendX":88,"legendY":208,"title":null,"symbolSize":784,"symbolStrokeWidth":1.6,"labelFontSize":8,"labelOffset":5,"columnPadding":5,"padding":4,"clipHeight":10}}}},
{"data":{"name":"f4a_cv"},"mark":{"type":"line","strokeWidth":1.5},"encoding":{"x":{"field":"t","type":"quantitative","scale":{"domain":[0,300],"range":[82,305],"nice":false,"zero":false},"axis":{"orient":"bottom","offset":-676,"values":[50,100,150,200,250,300],"title":"(a)","labelPadding":6,"titlePadding":1.5}},"y":{"field":"v","type":"quantitative","scale":{"domain":[0.109,0.545],"range":[226,178],"nice":false,"zero":false}},
"color":{"datum":"CV(Proposed)","scale":{"domain":["Setpoint","CV(Proposed)"],"range":["#e3262b","#2b2bd4"]},"legend":{"legendX":88,"legendY":208,"title":null,"symbolSize":784,"symbolStrokeWidth":1.6,"labelFontSize":8,"labelOffset":5,"columnPadding":5,"padding":4,"clipHeight":10}},
"strokeDash":{"datum":"CV(Proposed)","scale":{"domain":["Setpoint","CV(Proposed)"],"range":[[1,0],[4,2.5]]},"legend":{"legendX":88,"legendY":208,"title":null,"symbolSize":784,"symbolStrokeWidth":1.6,"labelFontSize":8,"labelOffset":5,"columnPadding":5,"padding":4,"clipHeight":10}}}}
]},

{"resolve":{"axis":{"x":"independent"}},"layer":[
{"data":{"values":[{}]},"mark":{"type":"rect","fillOpacity":0,"stroke":"#333333","strokeWidth":0.8},"encoding":{"x":{"datum":0,"type":"quantitative","scale":{"domain":[0,300],"range":[82,305],"nice":false,"zero":false},"axis":{"orient":"top","offset":-254,"grid":true,"labels":false,"title":null,"values":[50,100,150,200,250]}},"x2":{"datum":300},"y":{"datum":0.097,"type":"quantitative","scale":{"domain":[0.097,0.566],"range":[304,254],"nice":false,"zero":false},"axis":{"orient":"left","offset":-82,"values":[0.2,0.4],"grid":true,"format":"~g","title":"Level (h₂)","labelPadding":3,"titlePadding":3}},"y2":{"datum":0.566}}},
{"data":{"name":"f4b_sp"},"mark":{"type":"line","interpolate":"step-after","strokeWidth":1.6},"encoding":{"x":{"field":"t","type":"quantitative","scale":{"domain":[0,300],"range":[82,305],"nice":false,"zero":false},"axis":null},"y":{"field":"v","type":"quantitative","scale":{"domain":[0.097,0.566],"range":[304,254],"nice":false,"zero":false}},
"color":{"datum":"Setpoint","scale":{"domain":["Setpoint","CV(proposed)"],"range":["#e3262b","#2b2bd4"]},"legend":{"legendX":88,"legendY":286,"title":null,"symbolSize":784,"symbolStrokeWidth":1.6,"labelFontSize":8,"labelOffset":5,"columnPadding":5,"padding":4,"clipHeight":10}},
"strokeDash":{"datum":"Setpoint","scale":{"domain":["Setpoint","CV(proposed)"],"range":[[1,0],[4,2.5]]},"legend":{"legendX":88,"legendY":286,"title":null,"symbolSize":784,"symbolStrokeWidth":1.6,"labelFontSize":8,"labelOffset":5,"columnPadding":5,"padding":4,"clipHeight":10}}}},
{"data":{"name":"f4b_cv"},"mark":{"type":"line","strokeWidth":1.5},"encoding":{"x":{"field":"t","type":"quantitative","scale":{"domain":[0,300],"range":[82,305],"nice":false,"zero":false},"axis":{"orient":"bottom","offset":-598,"values":[50,100,150,200,250,300],"title":"(b)","labelPadding":4,"titlePadding":2}},"y":{"field":"v","type":"quantitative","scale":{"domain":[0.097,0.566],"range":[304,254],"nice":false,"zero":false}},
"color":{"datum":"CV(proposed)","scale":{"domain":["Setpoint","CV(proposed)"],"range":["#e3262b","#2b2bd4"]},"legend":{"legendX":88,"legendY":286,"title":null,"symbolSize":784,"symbolStrokeWidth":1.6,"labelFontSize":8,"labelOffset":5,"columnPadding":5,"padding":4,"clipHeight":10}},
"strokeDash":{"datum":"CV(proposed)","scale":{"domain":["Setpoint","CV(proposed)"],"range":[[1,0],[4,2.5]]},"legend":{"legendX":88,"legendY":286,"title":null,"symbolSize":784,"symbolStrokeWidth":1.6,"labelFontSize":8,"labelOffset":5,"columnPadding":5,"padding":4,"clipHeight":10}}}}
]},

{"resolve":{"axis":{"x":"independent"}},"layer":[
{"data":{"values":[{}]},"mark":{"type":"rect","fillOpacity":0,"stroke":"#333333","strokeWidth":0.8},"encoding":{"x":{"datum":0,"type":"quantitative","scale":{"domain":[0,300],"range":[84,306],"nice":false,"zero":false},"axis":{"orient":"top","offset":-333,"grid":true,"labels":false,"title":null,"values":[50,100,150,200,250]}},"x2":{"datum":300},"y":{"datum":-0.11,"type":"quantitative","scale":{"domain":[-0.11,1.24],"range":[387,333],"nice":false,"zero":false},"axis":{"orient":"left","offset":-84,"values":[0,0.5,1],"grid":true,"format":"~g","title":["Manipulating","Variables"],"titleLineHeight":11,"labelPadding":3,"titlePadding":0}},"y2":{"datum":1.24}}},
{"data":{"name":"f4c_1"},"mark":{"type":"line","strokeWidth":1.6},"encoding":{"x":{"field":"t","type":"quantitative","scale":{"domain":[0,300],"range":[84,306],"nice":false,"zero":false},"axis":{"orient":"bottom","offset":-515,"values":[50,100,150,200,250,300],"title":["(c)","Sampling Instants"],"titleLineHeight":14,"labelPadding":4,"titlePadding":2}},"y":{"field":"v","type":"quantitative","scale":{"domain":[-0.11,1.24],"range":[387,333],"nice":false,"zero":false}},
"color":{"datum":"Fin1","scale":{"domain":["Fin1","Fin2"],"range":["#2b2bd4","#e3262b"]},"legend":{"legendX":191,"legendY":335,"title":null,"symbolSize":841,"symbolStrokeWidth":1.6,"labelFontSize":7.5,"labelOffset":4,"columnPadding":4,"padding":3,"clipHeight":8.5}},
"strokeDash":{"datum":"Fin1","scale":{"domain":["Fin1","Fin2"],"range":[[1,0],[4.5,2.5]]},"legend":{"legendX":191,"legendY":335,"title":null,"symbolSize":841,"symbolStrokeWidth":1.6,"labelFontSize":7.5,"labelOffset":4,"columnPadding":4,"padding":3,"clipHeight":8.5}}}},
{"data":{"name":"f4c_2"},"mark":{"type":"line","strokeWidth":1.6},"encoding":{"x":{"field":"t","type":"quantitative","scale":{"domain":[0,300],"range":[84,306],"nice":false,"zero":false},"axis":null},"y":{"field":"v","type":"quantitative","scale":{"domain":[-0.11,1.24],"range":[387,333],"nice":false,"zero":false}},
"color":{"datum":"Fin2","scale":{"domain":["Fin1","Fin2"],"range":["#2b2bd4","#e3262b"]},"legend":{"legendX":191,"legendY":335,"title":null,"symbolSize":841,"symbolStrokeWidth":1.6,"labelFontSize":7.5,"labelOffset":4,"columnPadding":4,"padding":3,"clipHeight":8.5}},
"strokeDash":{"datum":"Fin2","scale":{"domain":["Fin1","Fin2"],"range":[[1,0],[4.5,2.5]]},"legend":{"legendX":191,"legendY":335,"title":null,"symbolSize":841,"symbolStrokeWidth":1.6,"labelFontSize":7.5,"labelOffset":4,"columnPadding":4,"padding":3,"clipHeight":8.5}}}}
]},

{"resolve":{"axis":{"x":"independent"}},"layer":[
{"data":{"values":[{}]},"mark":{"type":"rect","fillOpacity":0,"stroke":"#333333","strokeWidth":0.8},"encoding":{"x":{"datum":0,"type":"quantitative","scale":{"domain":[0,300],"range":[361,580.5],"nice":false,"zero":false},"axis":{"orient":"top","offset":-181,"grid":true,"labels":false,"title":null,"values":[50,100,150,200,250]}},"x2":{"datum":300},"y":{"datum":0.2,"type":"quantitative","scale":{"domain":[0.2,0.6],"range":[228.3,181],"nice":false,"zero":false},"axis":{"orient":"left","offset":-361,"values":[0.2,0.4],"grid":true,"format":"~g","title":"Level (h1)","labelPadding":3,"titlePadding":5}},"y2":{"datum":0.6}}},
{"data":{"name":"f5a_t"},"mark":{"type":"line","strokeWidth":1.3},"encoding":{"x":{"field":"t","type":"quantitative","scale":{"domain":[0,300],"range":[361,580.5],"nice":false,"zero":false},"axis":{"orient":"bottom","offset":-673.7,"values":[50,100,150,200,250,300],"title":"(a)","labelPadding":3.5,"titlePadding":2.5}},"y":{"field":"v","type":"quantitative","scale":{"domain":[0.2,0.6],"range":[228.3,181],"nice":false,"zero":false}},
"color":{"datum":"True","scale":{"domain":["True","Estimated"],"range":["#e3262b","#2b2bd4"]},"legend":{"legendX":449,"legendY":182,"title":null,"symbolSize":784,"symbolStrokeWidth":1.5,"labelFontSize":8,"labelOffset":4,"columnPadding":7,"padding":4,"clipHeight":10}},
"strokeDash":{"datum":"True","scale":{"domain":["True","Estimated"],"range":[[1,0],[4,2.5]]},"legend":{"legendX":449,"legendY":182,"title":null,"symbolSize":784,"symbolStrokeWidth":1.5,"labelFontSize":8,"labelOffset":4,"columnPadding":7,"padding":4,"clipHeight":10}}}},
{"data":{"name":"f5a_e"},"mark":{"type":"line","strokeWidth":1.3},"encoding":{"x":{"field":"t","type":"quantitative","scale":{"domain":[0,300],"range":[361,580.5],"nice":false,"zero":false},"axis":null},"y":{"field":"v","type":"quantitative","scale":{"domain":[0.2,0.6],"range":[228.3,181],"nice":false,"zero":false}},
"color":{"datum":"Estimated","scale":{"domain":["True","Estimated"],"range":["#e3262b","#2b2bd4"]},"legend":{"legendX":449,"legendY":182,"title":null,"symbolSize":784,"symbolStrokeWidth":1.5,"labelFontSize":8,"labelOffset":4,"columnPadding":7,"padding":4,"clipHeight":10}},
"strokeDash":{"datum":"Estimated","scale":{"domain":["True","Estimated"],"range":[[1,0],[4,2.5]]},"legend":{"legendX":449,"legendY":182,"title":null,"symbolSize":784,"symbolStrokeWidth":1.5,"labelFontSize":8,"labelOffset":4,"columnPadding":7,"padding":4,"clipHeight":10}}}}
]},

{"resolve":{"axis":{"x":"independent"}},"layer":[
{"data":{"values":[{}]},"mark":{"type":"rect","fillOpacity":0,"stroke":"#333333","strokeWidth":0.8},"encoding":{"x":{"datum":0,"type":"quantitative","scale":{"domain":[0,300],"range":[361,580.5],"nice":false,"zero":false},"axis":{"orient":"top","offset":-258.3,"grid":true,"labels":false,"title":null,"values":[50,100,150,200,250]}},"x2":{"datum":300},"y":{"datum":0.2,"type":"quantitative","scale":{"domain":[0.2,0.6],"range":[306.7,258.3],"nice":false,"zero":false},"axis":{"orient":"left","offset":-361,"values":[0.2,0.4],"grid":true,"format":"~g","title":"Level(h2)","labelPadding":3,"titlePadding":6}},"y2":{"datum":0.6}}},
{"data":{"name":"f5b_t"},"mark":{"type":"line","strokeWidth":1.3},"encoding":{"x":{"field":"t","type":"quantitative","scale":{"domain":[0,300],"range":[361,580.5],"nice":false,"zero":false},"axis":{"orient":"bottom","offset":-595.3,"values":[50,100,150,200,250,300],"title":"(b)","labelPadding":4.5,"titlePadding":1.5}},"y":{"field":"v","type":"quantitative","scale":{"domain":[0.2,0.6],"range":[306.7,258.3],"nice":false,"zero":false}},
"color":{"datum":"True","scale":{"domain":["True","Estimated"],"range":["#e3262b","#2b2bd4"]},"legend":{"legendX":449,"legendY":258,"title":null,"symbolSize":784,"symbolStrokeWidth":1.5,"labelFontSize":8,"labelOffset":4,"columnPadding":7,"padding":4,"clipHeight":10}},
"strokeDash":{"datum":"True","scale":{"domain":["True","Estimated"],"range":[[1,0],[4,2.5]]},"legend":{"legendX":449,"legendY":258,"title":null,"symbolSize":784,"symbolStrokeWidth":1.5,"labelFontSize":8,"labelOffset":4,"columnPadding":7,"padding":4,"clipHeight":10}}}},
{"data":{"name":"f5b_e"},"mark":{"type":"line","strokeWidth":1.3},"encoding":{"x":{"field":"t","type":"quantitative","scale":{"domain":[0,300],"range":[361,580.5],"nice":false,"zero":false},"axis":null},"y":{"field":"v","type":"quantitative","scale":{"domain":[0.2,0.6],"range":[306.7,258.3],"nice":false,"zero":false}},
"color":{"datum":"Estimated","scale":{"domain":["True","Estimated"],"range":["#e3262b","#2b2bd4"]},"legend":{"legendX":449,"legendY":258,"title":null,"symbolSize":784,"symbolStrokeWidth":1.5,"labelFontSize":8,"labelOffset":4,"columnPadding":7,"padding":4,"clipHeight":10}},
"strokeDash":{"datum":"Estimated","scale":{"domain":["True","Estimated"],"range":[[1,0],[4,2.5]]},"legend":{"legendX":449,"legendY":258,"title":null,"symbolSize":784,"symbolStrokeWidth":1.5,"labelFontSize":8,"labelOffset":4,"columnPadding":7,"padding":4,"clipHeight":10}}}}
]},

{"resolve":{"axis":{"x":"independent"}},"layer":[
{"data":{"values":[{}]},"mark":{"type":"rect","fillOpacity":0,"stroke":"#333333","strokeWidth":0.8},"encoding":{"x":{"datum":0,"type":"quantitative","scale":{"domain":[0,300],"range":[361,580.5],"nice":false,"zero":false},"axis":{"orient":"top","offset":-336.7,"grid":true,"labels":false,"title":null,"values":[50,100,150,200,250]}},"x2":{"datum":300},"y":{"datum":0.2,"type":"quantitative","scale":{"domain":[0.2,0.6],"range":[386,336.7],"nice":false,"zero":false},"axis":{"orient":"left","offset":-361,"values":[0.2,0.4,0.6],"grid":true,"format":"~g","title":"Level(h₃)","labelPadding":3,"titlePadding":6}},"y2":{"datum":0.6}}},
{"data":{"name":"f5c_t"},"mark":{"type":"line","strokeWidth":1.5},"encoding":{"x":{"field":"t","type":"quantitative","scale":{"domain":[0,300],"range":[361,580.5],"nice":false,"zero":false},"axis":{"orient":"bottom","offset":-516,"values":[50,100,150,200,250,300],"title":["(c)","Sampling Instants"],"titleLineHeight":14.5,"labelPadding":4,"titlePadding":1.5}},"y":{"field":"v","type":"quantitative","scale":{"domain":[0.2,0.6],"range":[386,336.7],"nice":false,"zero":false}},
"color":{"datum":"True","scale":{"domain":["True","Estimated"],"range":["#e3262b","#2b2bd4"]},"legend":{"legendX":449,"legendY":338,"title":null,"symbolSize":784,"symbolStrokeWidth":1.5,"labelFontSize":8,"labelOffset":4,"columnPadding":7,"padding":4,"clipHeight":10}},
"strokeDash":{"datum":"True","scale":{"domain":["True","Estimated"],"range":[[1,0],[4,2.5]]},"legend":{"legendX":449,"legendY":338,"title":null,"symbolSize":784,"symbolStrokeWidth":1.5,"labelFontSize":8,"labelOffset":4,"columnPadding":7,"padding":4,"clipHeight":10}}}},
{"data":{"name":"f5c_e"},"mark":{"type":"line","strokeWidth":1.3},"encoding":{"x":{"field":"t","type":"quantitative","scale":{"domain":[0,300],"range":[361,580.5],"nice":false,"zero":false},"axis":null},"y":{"field":"v","type":"quantitative","scale":{"domain":[0.2,0.6],"range":[386,336.7],"nice":false,"zero":false}},
"color":{"datum":"Estimated","scale":{"domain":["True","Estimated"],"range":["#e3262b","#2b2bd4"]},"legend":{"legendX":449,"legendY":338,"title":null,"symbolSize":784,"symbolStrokeWidth":1.5,"labelFontSize":8,"labelOffset":4,"columnPadding":7,"padding":4,"clipHeight":10}},
"strokeDash":{"datum":"Estimated","scale":{"domain":["True","Estimated"],"range":[[1,0],[4,2.5]]},"legend":{"legendX":449,"legendY":338,"title":null,"symbolSize":784,"symbolStrokeWidth":1.5,"labelFontSize":8,"labelOffset":4,"columnPadding":7,"padding":4,"clipHeight":10}}}}
]},

{"resolve":{"axis":{"x":"independent"}},"layer":[
{"data":{"values":[{}]},"mark":{"type":"rect","fillOpacity":0,"stroke":"#444444","strokeWidth":0.6},"encoding":{"x":{"datum":0,"type":"quantitative","scale":{"domain":[0,300],"range":[81.5,175.7],"nice":false,"zero":false},"axis":{"orient":"top","offset":-475,"grid":true,"labels":false,"title":null,"values":[100,200]}},"x2":{"datum":300},"y":{"datum":-2,"type":"quantitative","scale":{"domain":[-2,2],"range":[550.7,475],"nice":false,"zero":false},"axis":{"orient":"left","offset":-81.5,"values":[-2,-1,0,1,2],"grid":true,"labelExpr":"(datum.value < 0 ? '-' : '') + format(abs(datum.value), 'd')","title":"z₁(True)","labelFontSize":7,"titleFontSize":7.5,"labelPadding":2,"titlePadding":7}},"y2":{"datum":2}}},
{"data":{"name":"z1t"},"mark":{"type":"line","interpolate":"step-after","color":"#e05050","strokeWidth":0.6,"opacity":0.6},"encoding":{"x":{"field":"t","type":"quantitative","scale":{"domain":[0,300],"range":[81.5,175.7],"nice":false,"zero":false},"axis":{"orient":"bottom","offset":-351.3,"values":[100,200,300],"title":"Sampling Instants","labelFontSize":7,"titleFontSize":7.5,"labelPadding":4,"titlePadding":1.5}},"y":{"field":"v","type":"quantitative","scale":{"domain":[-2,2],"range":[550.7,475],"nice":false,"zero":false}}}}
]},

{"resolve":{"axis":{"x":"independent"}},"layer":[
{"data":{"values":[{}]},"mark":{"type":"rect","fillOpacity":0,"stroke":"#444444","strokeWidth":0.6},"encoding":{"x":{"datum":0,"type":"quantitative","scale":{"domain":[0,300],"range":[206.5,296.7],"nice":false,"zero":false},"axis":{"orient":"top","offset":-475,"grid":true,"labels":false,"title":null,"values":[100,200]}},"x2":{"datum":300},"y":{"datum":-2,"type":"quantitative","scale":{"domain":[-2,2],"range":[550.7,475],"nice":false,"zero":false},"axis":{"orient":"left","offset":-206.5,"values":[-2,-1,0,1,2],"grid":true,"labelExpr":"(datum.value < 0 ? '-' : '') + format(abs(datum.value), 'd')","title":"z₂(True)","labelFontSize":7,"titleFontSize":7.5,"labelPadding":2,"titlePadding":7}},"y2":{"datum":2}}},
{"data":{"name":"z2t"},"mark":{"type":"line","interpolate":"step-after","color":"#e05050","strokeWidth":0.6,"opacity":0.6},"encoding":{"x":{"field":"t","type":"quantitative","scale":{"domain":[0,300],"range":[206.5,296.7],"nice":false,"zero":false},"axis":{"orient":"bottom","offset":-351.3,"values":[100,200,300],"title":"Sampling Instants","labelFontSize":7,"titleFontSize":7.5,"labelPadding":4,"titlePadding":1.5}},"y":{"field":"v","type":"quantitative","scale":{"domain":[-2,2],"range":[550.7,475],"nice":false,"zero":false}}}}
]},

{"resolve":{"axis":{"x":"independent"}},"layer":[
{"data":{"values":[{}]},"mark":{"type":"rect","fillOpacity":0,"stroke":"#444444","strokeWidth":0.6},"encoding":{"x":{"datum":0,"type":"quantitative","scale":{"domain":[0,300],"range":[82.5,175.7],"nice":false,"zero":false},"axis":{"orient":"top","offset":-586,"grid":true,"labels":false,"title":null,"values":[100,200]}},"x2":{"datum":300},"y":{"datum":-2,"type":"quantitative","scale":{"domain":[-2,2],"range":[661.7,586],"nice":false,"zero":false},"axis":{"orient":"left","offset":-82.5,"values":[-2,-1,0,1,2],"grid":true,"labelExpr":"(datum.value < 0 ? '-' : '') + format(abs(datum.value), 'd')","title":"z₁(Estimate)","labelFontSize":7,"titleFontSize":7.5,"labelPadding":2,"titlePadding":7}},"y2":{"datum":2}}},
{"data":{"name":"z1e"},"mark":{"type":"line","interpolate":"step-after","color":"#5050e0","strokeWidth":0.6,"opacity":0.6},"encoding":{"x":{"field":"t","type":"quantitative","scale":{"domain":[0,300],"range":[82.5,175.7],"nice":false,"zero":false},"axis":{"orient":"bottom","offset":-240.3,"values":[100,200,300],"title":"Sampling Instants","labelFontSize":7,"titleFontSize":7.5,"labelPadding":4,"titlePadding":1.5}},"y":{"field":"v","type":"quantitative","scale":{"domain":[-2,2],"range":[661.7,586],"nice":false,"zero":false}}}}
]},

{"resolve":{"axis":{"x":"independent"}},"layer":[
{"data":{"values":[{}]},"mark":{"type":"rect","fillOpacity":0,"stroke":"#444444","strokeWidth":0.6},"encoding":{"x":{"datum":0,"type":"quantitative","scale":{"domain":[0,300],"range":[207,296.7],"nice":false,"zero":false},"axis":{"orient":"top","offset":-586,"grid":true,"labels":false,"title":null,"values":[100,200]}},"x2":{"datum":300},"y":{"datum":-2,"type":"quantitative","scale":{"domain":[-2,2],"range":[661.7,586],"nice":false,"zero":false},"axis":{"orient":"left","offset":-207,"values":[-2,-1,0,1,2],"grid":true,"labelExpr":"(datum.value < 0 ? '-' : '') + format(abs(datum.value), 'd')","title":"z₂(True)","labelFontSize":7,"titleFontSize":7.5,"labelPadding":2,"titlePadding":7}},"y2":{"datum":2}}},
{"data":{"name":"z2e"},"mark":{"type":"line","interpolate":"step-after","color":"#5050e0","strokeWidth":0.6,"opacity":0.6},"encoding":{"x":{"field":"t","type":"quantitative","scale":{"domain":[0,300],"range":[207,296.7],"nice":false,"zero":false},"axis":{"orient":"bottom","offset":-240.3,"values":[100,200,300],"title":"Sampling Instants","labelFontSize":7,"titleFontSize":7.5,"labelPadding":4,"titlePadding":1.5}},"y":{"field":"v","type":"quantitative","scale":{"domain":[-2,2],"range":[661.7,586],"nice":false,"zero":false}}}}
]}
]
}
